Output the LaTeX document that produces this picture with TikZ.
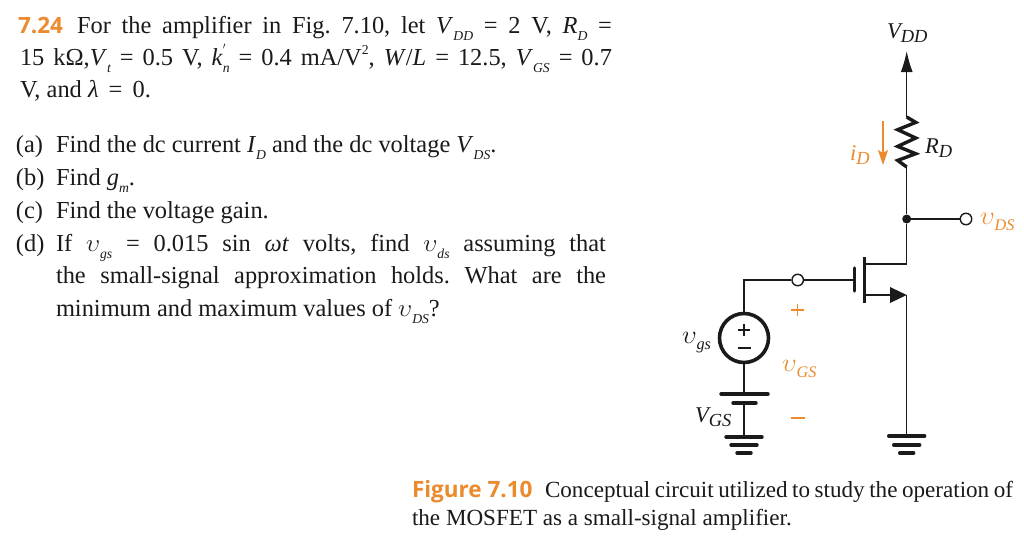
\documentclass[tikz,border=0pt]{standalone}
\usepackage{fontspec}
\setmainfont{Liberation Serif}
\newfontfamily\headfont{Open Sans}
\usetikzlibrary{arrows.meta}
\definecolor{accent}{HTML}{EC8A2E}
\definecolor{ink}{HTML}{1A1A1A}
\newcommand{\lowi}[1]{\raisebox{-.3em}{\scalebox{.56}{\itshape #1}}}
\newcommand{\lowc}[1]{\raisebox{-.2em}{\scalebox{.82}{\itshape #1}}}
\newcommand{\lowv}[1]{\raisebox{-.28em}{\scalebox{.72}{\itshape #1}}}
\newcommand{\vv}{\ensuremath{\upsilon}}
\newcommand{\vc}{\scalebox{1.25}{\ensuremath{\upsilon}}}
\newcommand{\bodysize}{\fontsize{24.4}{28}\selectfont}
\newcommand{\jline}[2]{\makebox[#1pt][s]{#2}}
\tikzset{
  x=1pt,y=-1pt,
  txt/.style={anchor=base west,inner sep=0pt,outer sep=0pt,text=ink,font=\bodysize},
  captxt/.style={anchor=base west,inner sep=0pt,outer sep=0pt,text=ink,font=\fontsize{23.1}{27}\selectfont},
  head/.style={anchor=base west,inner sep=0pt,outer sep=0pt,text=accent,font=\fontsize{22.5}{25}\selectfont\headfont\bfseries},
  lab/.style={anchor=base west,inner sep=0pt,outer sep=0pt,text=ink,font=\fontsize{22.5}{27}\selectfont\itshape},
  olab/.style={anchor=base west,inner sep=0pt,outer sep=0pt,text=accent,font=\fontsize{22.5}{27}\selectfont\itshape},
  wire/.style={draw=ink,line width=1.4pt},
  thick plate/.style={draw=ink,line width=3.4pt},
  term/.style={circle,draw=ink,fill=white,line width=1.4pt,minimum size=11.5pt,inner sep=0pt},
  dotn/.style={circle,fill=ink,minimum size=9pt,inner sep=0pt},
  srcn/.style={circle,draw=ink,fill=white,line width=3.6pt,minimum size=49pt,inner sep=0pt},
  omark/.style={draw=accent,line width=1.1pt},
}
\begin{document}
\frenchspacing
\begin{tikzpicture}
\path[use as bounding box,fill=white] (0,0) rectangle (1024,544);
% problem text
\node[head] (n724) at (18,33) {7.24};
\node[txt] (l1) at (77,33) {\jline{535}{For the amplifier in Fig. 7.10, let \textit{V}\lowi{DD} = 2 V, \textit{R}\lowi{D} =}};
\node[txt] (l2) at (20,65) {\jline{592}{15 kΩ,\textit{V}\lowi{t} = 0.5 V, \textit{k}\rlap{\raisebox{.42em}{\scalebox{.56}{$'$}}}\lowi{n} = 0.4 mA/V\raisebox{.42em}{\scalebox{.56}{2}}, \textit{W}/\textit{L} = 12.5, \textit{V}\lowi{GS} = 0.7}};
\node[txt] (l3) at (20,97) {V, and \textit{λ}\, =\, 0.};
\node[txt] (a0) at (16,152) {(a)};
\node[txt] (a1) at (56,152) {Find the dc current \textit{I}\lowi{D} and the dc voltage \textit{V}\lowi{DS}.};
\node[txt] (b0) at (16,185) {(b)};
\node[txt] (b1) at (56,185) {Find \textit{g}\lowi{m}.};
\node[txt] (c0) at (16,218) {(c)};
\node[txt] (c1) at (56,218) {Find the voltage gain.};
\node[txt] (d0) at (16,251) {(d)};
\node[txt] (d1) at (56,251) {\jline{550}{If \vv\lowi{gs} = 0.015 sin \textit{ωt} volts, find \vv\lowi{ds} assuming that}};
\node[txt] (d2) at (56,283) {\jline{550}{the small-signal approximation holds. What are the}};
\node[txt] (d3) at (56,316) {minimum and maximum values of \vv\lowi{DS}?};
% caption
\node[head] (f0) at (412,497) {Figure 7.10};
\node[captxt] (f1) at (545,497) {\jline{468}{Conceptual circuit utilized to study the operation of}};
\node[captxt] (f2) at (412,525) {the MOSFET as a small-signal amplifier.};
% circuit anchor points
\coordinate (tip) at (906.7,51);
\coordinate (rtop) at (906.7,117);
\coordinate (rbot) at (906.7,167);
\node[dotn] (j) at (906.7,219) {};
\node[term] (out) at (966,219) {};
\coordinate (dr) at (906.7,264);
\coordinate (drc) at (864.3,264);
\coordinate (sc) at (864.3,295);
\coordinate (st) at (906.7,295);
\coordinate (gp) at (854.7,280);
\node[term] (in) at (797.7,280) {};
\coordinate (gc) at (744,280);
\node[srcn] (src) at (744,338) {};
\coordinate (b1t) at (744,394);
\coordinate (b2t) at (744,403);
\coordinate (g1) at (744,437);
\coordinate (g2) at (906.7,436);
% wires
\draw[wire,-{Latex[length=21pt,width=12pt]}] (rtop) -- (tip);
\draw[wire] (rbot) -- (j);
\draw[wire] (j) -- (out);
\draw[wire] (j) -- (dr) -- (drc);
\draw[wire] (st) -- (g2);
\draw[wire] (gp) -- (in);
\draw[wire] (in) -- (gc) -- (src);
\draw[wire] (src) -- (b1t);
\draw[wire] (b2t) -- (g1);
% resistor
\draw[thick plate,line join=miter] (rtop) -- ++(9,5.4) -- ++(-18,7.3) -- ++(18,8.3) -- ++(-18,8.4) -- ++(18,7.3) -- ++(-18,6.7) -- (rbot);
% MOSFET
\draw[thick plate] (864.3,257) -- (864.3,303);
\draw[thick plate,line cap=round] (854.7,268) -- (854.7,291);
\draw[wire] (sc) -- (890,295);
\fill[ink] (st) -- (890,287) -- (890,303) -- cycle;
% battery
\draw[thick plate,line cap=round] (721,394) -- (768,394);
\draw[thick plate,line cap=round] (733,403) -- (756,403);
% grounds
\draw[thick plate,line cap=round] (726,437) -- (762,437);
\draw[thick plate,line cap=round] (731,445) -- (757,445);
\draw[thick plate,line cap=round] (737,453) -- (751,453);
\draw[thick plate,line cap=round] (888.7,436) -- (924.7,436);
\draw[thick plate,line cap=round] (893.7,445) -- (919.7,445);
\draw[thick plate,line cap=round] (899.7,453) -- (913.7,453);
% source polarity
\coordinate (sp1) at (738,330);
\coordinate (sp2) at (750,330);
\coordinate (sp3) at (744,324);
\coordinate (sp4) at (744,336);
\coordinate (sm1) at (738,348);
\coordinate (sm2) at (751,348);
\draw[wire,line width=1.1pt] (sp1) -- (sp2);
\draw[wire,line width=1.1pt] (sp3) -- (sp4);
\draw[wire,line width=1.1pt] (sm1) -- (sm2);
% current arrow
\coordinate (ia) at (883,121);
\coordinate (ib) at (883,165);
\draw[draw=accent,line width=1.5pt,-{Stealth[length=15pt,width=10pt,inset=3pt]}] (ia) -- (ib);
% orange polarity marks
\coordinate (op1) at (791,310);
\coordinate (op2) at (804,310);
\coordinate (op3) at (797.5,304);
\coordinate (op4) at (797.5,316);
\coordinate (om1) at (790.5,418);
\coordinate (om2) at (804.5,418);
\draw[omark] (op1) -- (op2);
\draw[omark] (op3) -- (op4);
\draw[omark] (om1) -- (om2);
% labels
\node[lab] (vdd) at (887,38) {V\lowc{DD}};
\node[lab] (rd) at (925,153) {R\lowc{D}};
\node[olab] (idl) at (850,160) {i\lowc{D}};
\node[olab] (vds) at (980,224) {\vc\lowv{DS}};
\node[lab] (vgs) at (682,343) {\vc\lowv{gs}};
\node[lab] (vgg) at (695,422) {V\lowc{GS}};
\node[olab] (vgo) at (782,371) {\vc\lowv{GS}};
\end{tikzpicture}
\end{document}
